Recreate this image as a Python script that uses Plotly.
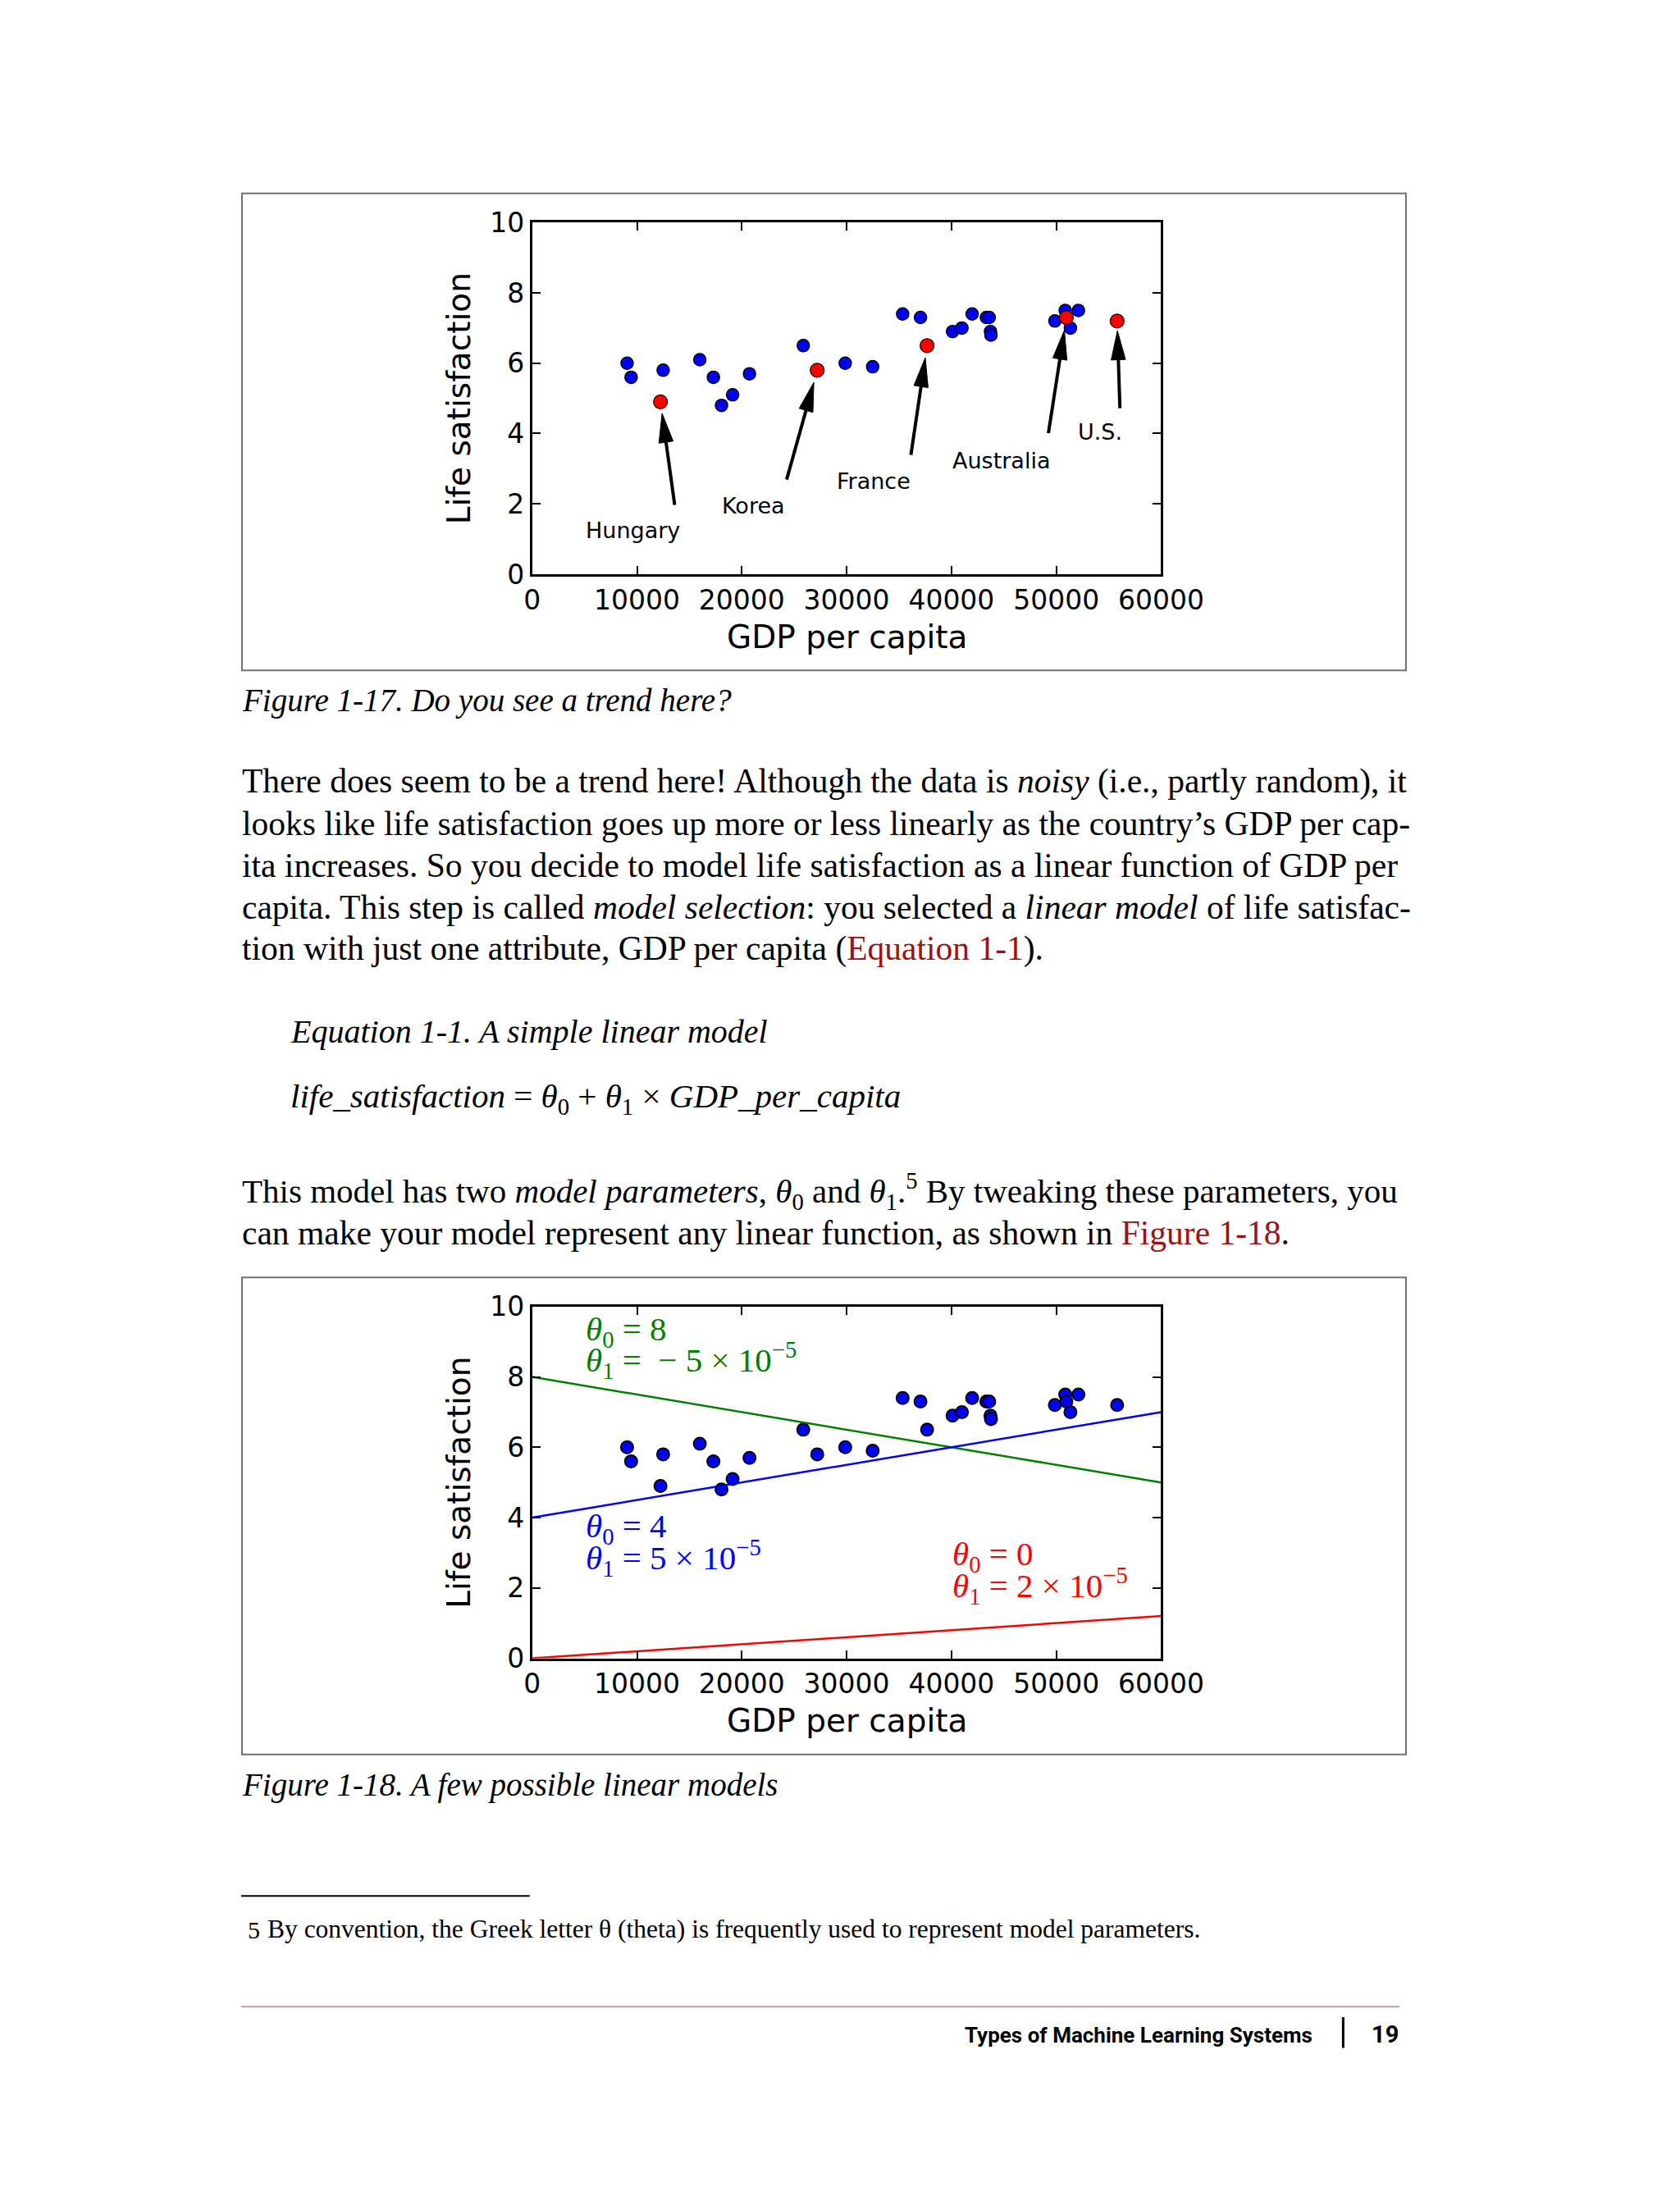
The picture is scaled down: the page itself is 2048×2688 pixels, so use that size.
import math
import plotly.graph_objects as go

W, H = 2048, 2688

# ---------------- data ----------------
countries = ["Russia", "Turkey", "Hungary", "Poland", "Slovak Republic", "Estonia", "Greece",
             "Portugal", "Slovenia", "Spain", "Korea", "Italy", "Japan", "Israel", "New Zealand",
             "France", "Belgium", "Germany", "Finland", "Canada", "Netherlands", "Austria",
             "United Kingdom", "Sweden", "Iceland", "Australia", "Ireland", "Denmark", "United States"]
gdp_per_capita = [9054.914, 9437.372, 12239.894, 12495.334, 15991.736, 17288.083, 18064.288,
                  19121.592, 20732.482, 25864.721, 27195.197, 29866.581, 32485.545, 35343.336,
                  37044.891, 37675.006, 40106.632, 40996.511, 41973.988, 43331.961, 43603.115,
                  43724.031, 43770.688, 49866.266, 50854.583, 50961.865, 51350.744, 52114.165,
                  55805.204]
life_satisfaction = [6.0, 5.6, 4.9, 5.8, 6.1, 5.6, 4.8, 5.1, 5.7, 6.5, 5.8, 6.0, 5.9, 7.4, 7.3,
                     6.5, 6.9, 7.0, 7.4, 7.3, 7.3, 6.9, 6.8, 7.2, 7.5, 7.3, 7.0, 7.5, 7.2]

highlighted = ["Hungary", "Korea", "France", "Australia", "United States"]
highlight_labels = ["Hungary", "Korea", "France", "Australia", "U.S."]
label_x = [5000, 18000, 29000, 40000, 52000]
label_y = [1.0, 1.7, 2.4, 3.0, 3.8]

x_tick_values = [0, 10000, 20000, 30000, 40000, 50000, 60000]
x_tick_labels = ["0", "10000", "20000", "30000", "40000", "50000", "60000"]
y_tick_values = [0, 2, 4, 6, 8, 10]
y_tick_labels = ["0", "2", "4", "6", "8", "10"]

model_x = [0, 60000]
theta0 = [0, 8, 4]
theta1 = [2e-5, -5e-5, 5e-5]
model_colors = ["#FF0000", "#008000", "#0000FF"]
theta0_text = ["<i>θ</i><sub>0</sub> = 0", "<i>θ</i><sub>0</sub> = 8", "<i>θ</i><sub>0</sub> = 4"]
theta1_text = ["<i>θ</i><sub>1</sub> = 2 × 10<sup>−5</sup>",
               "<i>θ</i><sub>1</sub> =  − 5 × 10<sup>−5</sup>",
               "<i>θ</i><sub>1</sub> = 5 × 10<sup>−5</sup>"]
theta_text_x = [40000, 5000, 5000]
theta0_text_y = [2.7, 9.1, 3.5]
theta1_text_y = [1.8, 8.2, 2.6]

# ---------------- geometry (pixels) ----------------
AX_L, AX_R = 658, 1449
P1_T, P1_B = 256, 691
P2_T, P2_B = 1597, 2032
XMAX, YMAX = 60000.0, 10.0

def xpx(v):
    return AX_L + v / XMAX * (AX_R - AX_L)

def xdat(p):
    return (p - AX_L) / (AX_R - AX_L) * XMAX

def ypx1(v):
    return P1_B - v / YMAX * (P1_B - P1_T)

def ydat1(p):
    return (P1_B - p) / (P1_B - P1_T) * YMAX

SANS = "DejaVu Sans"
SERIF = "Liberation Serif"
TICK_SIZE = 33
TITLE_SIZE = 39
LABEL_SIZE = 27
MATH_SIZE = 41

DJV = {'H': 1540, 'u': 1298, 'n': 1298, 'g': 1300, 'a': 1255, 'r': 842, 'y': 1212, 'K': 1343,
       'o': 1253, 'e': 1260, 'F': 1178, 'c': 1126, 'A': 1401, 's': 1067, 't': 803, 'l': 569,
       'i': 569, 'U': 1499, '.': 651, 'S': 1300}

def text_width(s, size):
    return sum(DJV.get(ch, 1200) for ch in s) / 2048.0 * size

fig = go.Figure()

# ---------------- plot 1 ----------------
fig.add_trace(go.Scatter(
    x=gdp_per_capita, y=life_satisfaction, mode="markers", xaxis="x", yaxis="y",
    marker=dict(color="#0000FF", size=15, line=dict(color="black", width=1.5)),
    showlegend=False, hoverinfo="skip"))
hx = [gdp_per_capita[countries.index(c)] for c in highlighted]
hy = [life_satisfaction[countries.index(c)] for c in highlighted]
fig.add_trace(go.Scatter(
    x=hx, y=hy, mode="markers", xaxis="x", yaxis="y",
    marker=dict(color="#FF0000", size=17, line=dict(color="black", width=1.2)),
    showlegend=False, hoverinfo="skip"))

# ---------------- plot 2 ----------------
fig.add_trace(go.Scatter(
    x=gdp_per_capita, y=life_satisfaction, mode="markers", xaxis="x2", yaxis="y2",
    marker=dict(color="#0000FF", size=15, line=dict(color="black", width=2)),
    showlegend=False, hoverinfo="skip"))
for t0, t1, col in zip(theta0, theta1, model_colors):
    fig.add_trace(go.Scatter(
        x=model_x, y=[t0 + t1 * xv for xv in model_x], mode="lines", xaxis="x2", yaxis="y2",
        line=dict(color=col, width=2.5), showlegend=False, hoverinfo="skip"))

annotations = []
shapes = []

# country labels and arrows (matplotlib-like: from nearest text-bbox point, shrink 10%)
HEAD_LEN, HEAD_W, SHAFT_W = 36.0, 18.0, 4.0
for lab, tx, ty, px_, py_ in zip(highlight_labels, label_x, label_y, hx, hy):
    annotations.append(dict(
        x=tx, y=ty, xref="x", yref="y", text=lab, showarrow=False, xanchor="left",
        yanchor="bottom", yshift=-0.236 * LABEL_SIZE, borderpad=0,
        font=dict(family=SANS, size=LABEL_SIZE, color="black")))
    l = xpx(tx)
    r = l + text_width(lab, LABEL_SIZE)
    b = ypx1(ty) + 0.236 * LABEL_SIZE
    t = ypx1(ty) - 1.04 * LABEL_SIZE
    xc, yc = (l + r) / 2, (b + t) / 2
    X, Y = xpx(px_), ypx1(py_)
    cands = [(l, b), (l, t), (r, b), (r, t), (l, yc), (r, yc), (xc, b), (xc, t)]
    cx, cy = min(cands, key=lambda c: (c[0] - X) ** 2 + (c[1] - Y) ** 2)
    sx, sy = cx + 0.1 * (X - cx), cy + 0.1 * (Y - cy)
    ex, ey = X - 0.1 * (X - cx), Y - 0.1 * (Y - cy)
    L = math.hypot(ex - sx, ey - sy)
    ux, uy = (ex - sx) / L, (ey - sy) / L
    bx, by = ex - ux * HEAD_LEN, ey - uy * HEAD_LEN
    nx, ny = -uy, ux
    shapes.append(dict(type="line", xref="x", yref="y",
                       x0=xdat(sx), y0=ydat1(sy), x1=xdat(bx + ux * 2), y1=ydat1(by + uy * 2),
                       line=dict(color="black", width=SHAFT_W)))
    pts = [(ex, ey), (bx + nx * HEAD_W / 2, by + ny * HEAD_W / 2),
           (bx - nx * HEAD_W / 2, by - ny * HEAD_W / 2)]
    path = "M " + " L ".join("%f,%f" % (xdat(a), ydat1(c)) for a, c in pts) + " Z"
    shapes.append(dict(type="path", xref="x", yref="y", path=path, fillcolor="black",
                       line=dict(color="black", width=1)))

# model labels on plot 2
MATH_DESC = (0.3 + 0.7 * 0.216) * MATH_SIZE
for col, tx, y0t, y1t, s0, s1 in zip(model_colors, theta_text_x, theta0_text_y, theta1_text_y,
                                     theta0_text, theta1_text):
    for yy, ss in ((y0t, s0), (y1t, s1)):
        annotations.append(dict(
            x=tx, y=yy, xref="x2", yref="y2", text=ss, showarrow=False, xanchor="left",
            yanchor="bottom", yshift=-MATH_DESC, borderpad=0,
            font=dict(family=SERIF, size=MATH_SIZE, color=col)))

# axis titles
for top, bot in ((P1_T, P1_B), (P2_T, P2_B)):
    annotations.append(dict(
        xref="paper", yref="paper", x=566 / W, y=1 - (top + bot) / 2 / H, text="Life satisfaction",
        textangle=-90, showarrow=False, xanchor="center", yanchor="middle", borderpad=0,
        font=dict(family=SANS, size=TITLE_SIZE, color="black")))
    base = bot + 92
    annotations.append(dict(
        xref="paper", yref="paper", x=(AX_L + AX_R) / 2 / W, y=1 - (base + 0.236 * TITLE_SIZE) / H,
        text="GDP per capita", showarrow=False, xanchor="center", yanchor="bottom", borderpad=0,
        font=dict(family=SANS, size=TITLE_SIZE, color="black")))

# figure frames
for top in (220, 1561):
    shapes.append(dict(type="rect", xref="paper", yref="paper",
                       x0=293 / W, x1=1757 / W, y0=1 - top / H, y1=1 - (top + 590) / H,
                       line=dict(color="#707070", width=2), fillcolor="rgba(0,0,0,0)"))

# ---------------- page text ----------------
RED = "#a01010"

def page_text(x_px, base_px, html, size, family=SERIF, color="black", anchor="left",
              sub=False, desc=0.216):
    d = (0.3 + 0.7 * desc) if sub else desc
    annotations.append(dict(
        xref="paper", yref="paper", x=x_px / W, y=1 - (base_px + d * size) / H, text=html,
        showarrow=False, xanchor=anchor, yanchor="bottom", borderpad=0,
        font=dict(family=family, size=size, color=color)))

BODY = 41.5
page_text(292, 862, "<i>Figure 1-17. Do you see a trend here?</i>", 39)
para1 = [
    "There does seem to be a trend here! Although the data is <i>noisy</i> (i.e., partly random), it",
    "looks like life satisfaction goes up more or less linearly as the country’s GDP per cap-",
    "ita increases. So you decide to model life satisfaction as a linear function of GDP per",
    "capita. This step is called <i>model selection</i>: you selected a <i>linear model</i> of life satisfac-",
    "tion with just one attribute, GDP per capita (<span style='color:%s'>Equation 1-1</span>)." % RED,
]
for i, line in enumerate(para1):
    page_text(292, 963 + i * 51.7, line, BODY)
page_text(353, 1272, "<i>Equation 1-1. A simple linear model</i>", 40)
page_text(353, 1348, "<i>life_satisfaction</i> = <i>θ</i><sub>0</sub> + <i>θ</i><sub>1</sub> × "
                     "<i>GDP_per_capita</i>", 41, sub=True)
page_text(292, 1466, "This model has two <i>model parameters</i>, <i>θ</i><sub>0</sub> and "
                     "<i>θ</i><sub>1</sub>.<sup>5</sup> By tweaking these parameters, you",
          41, sub=True)
page_text(292, 1521, "can make your model represent any linear function, as shown in "
                     "<span style='color:%s'>Figure 1-18</span>." % RED, BODY)
page_text(292, 2204, "<i>Figure 1-18. A few possible linear models</i>", 39)

shapes.append(dict(type="line", xref="paper", yref="paper", x0=292 / W, x1=655 / W,
                   y0=1 - 2326 / H, y1=1 - 2326 / H, line=dict(color="black", width=2)))
page_text(299, 2379, "5", 30)
page_text(324, 2379, "By convention, the Greek letter θ (theta) is frequently used to represent "
                     "model parameters.", 31.5)
shapes.append(dict(type="line", xref="paper", yref="paper", x0=292 / W, x1=1749 / W,
                   y0=1 - 2463 / H, y1=1 - 2463 / H, line=dict(color="#c99a9a", width=2)))
FOOT = "Liberation Sans Narrow, Roboto, Liberation Sans"
page_text(1640, 2509, "<b>Types of Machine Learning Systems</b>", 26, family=FOOT, anchor="right")
shapes.append(dict(type="line", xref="paper", yref="paper", x0=1678 / W, x1=1678 / W,
                   y0=1 - 2476 / H, y1=1 - 2514 / H, line=dict(color="black", width=3)))
page_text(1749, 2509, "<b>19</b>", 29, family=FOOT, anchor="right")

# ---------------- axes ----------------
def axis_common(**kw):
    d = dict(showline=True, linecolor="black", linewidth=3, mirror="ticks", ticks="inside",
             ticklen=10, tickwidth=2, tickcolor="black", showgrid=False, zeroline=False,
             tickfont=dict(family=SANS, size=TICK_SIZE, color="black"), fixedrange=True)
    d.update(kw)
    return d

xdom = [AX_L / W, AX_R / W]
fig.update_layout(
    width=W, height=H, margin=dict(l=0, r=0, t=0, b=0),
    paper_bgcolor="white", plot_bgcolor="white", showlegend=False,
    xaxis=axis_common(domain=xdom, range=[0, XMAX], anchor="y", tickvals=x_tick_values,
                      ticktext=x_tick_labels),
    yaxis=axis_common(domain=[1 - P1_B / H, 1 - P1_T / H], range=[0, YMAX], anchor="x",
                      tickvals=y_tick_values, ticktext=y_tick_labels),
    xaxis2=axis_common(domain=xdom, range=[0, XMAX], anchor="y2", tickvals=x_tick_values,
                       ticktext=x_tick_labels),
    yaxis2=axis_common(domain=[1 - P2_B / H, 1 - P2_T / H], range=[0, YMAX], anchor="x2",
                       tickvals=y_tick_values, ticktext=y_tick_labels),
    annotations=annotations, shapes=shapes,
)

fig.write_html("out.html", config={"displayModeBar": False, "staticPlot": True},
               post_script="document.body.style.margin='0px';document.body.style.overflow='hidden';")
